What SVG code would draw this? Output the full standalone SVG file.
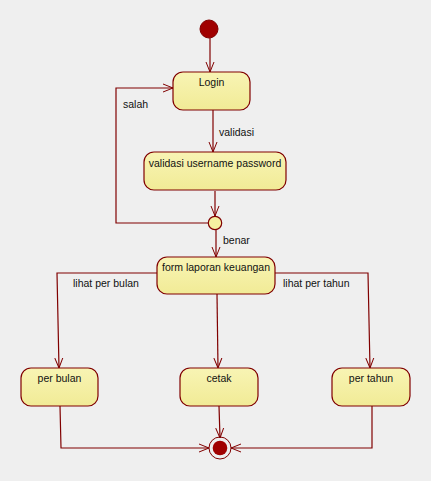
<svg xmlns="http://www.w3.org/2000/svg" width="431" height="481" viewBox="0 0 431 481">
<defs>
<marker id="arr" viewBox="0 0 10 10" refX="10" refY="5" markerWidth="10" markerHeight="10" markerUnits="userSpaceOnUse" orient="auto">
<path d="M0,1 L10,5 L0,9" fill="none" stroke="#800000" stroke-width="1"/>
</marker>
<linearGradient id="g" x1="0" y1="0" x2="0" y2="1">
<stop offset="0" stop-color="#f8f4b4"/>
<stop offset="1" stop-color="#f1eb96"/>
</linearGradient>
</defs>
<style>
.box{fill:url(#g);stroke:#800000;stroke-width:1.2}
.t{font-family:"Liberation Sans",Arial,sans-serif;font-size:10.5px;fill:#111}
.c{fill:none;stroke:#800000;stroke-width:1.2}
</style>
<rect width="431" height="481" fill="#efefef"/>
<g id="connectors">
<path class="c" d="M210,38 L210,72" marker-end="url(#arr)"/>
<path class="c" d="M213,110 L213,152" marker-end="url(#arr)"/>
<path class="c" d="M215,191 L215,216" marker-end="url(#arr)"/>
<path class="c" d="M208.5,223 L116,223 L116,88 L173,88" marker-end="url(#arr)"/>
<path class="c" d="M216,229.5 L216,257" marker-end="url(#arr)"/>
<path class="c" d="M157,273 L57,273 L59,368" marker-end="url(#arr)"/>
<path class="c" d="M275,273 L368,273 L370,368" marker-end="url(#arr)"/>
<path class="c" d="M217,294 L218,368" marker-end="url(#arr)"/>
<path class="c" d="M219,406 L220,438" marker-end="url(#arr)"/>
<path class="c" d="M60,406 L61,448 L209,448" marker-end="url(#arr)"/>
<path class="c" d="M372,406 L372,448 L231,448" marker-end="url(#arr)"/>
</g>
<g id="labels">
<text class="t" x="219" y="136">validasi</text>
<text class="t" x="123" y="108">salah</text>
<text class="t" x="223" y="244">benar</text>
<text class="t" x="73" y="287">lihat per bulan</text>
<text class="t" x="283" y="287">lihat per tahun</text>
</g>
<g id="start"><circle cx="209" cy="29" r="9" fill="#a00000" stroke="#800000"/></g>
<g id="login"><rect class="box" x="173" y="72" width="77" height="38" rx="10"/><text class="t" x="211.5" y="86" text-anchor="middle">Login</text></g>
<g id="validasi"><rect class="box" x="144" y="152" width="142" height="38" rx="10"/><text class="t" x="215" y="167" text-anchor="middle">validasi username password</text></g>
<g id="decision"><circle cx="215" cy="223" r="6.7" fill="#f5f0a0" stroke="#800000" stroke-width="1.2"/></g>
<g id="form"><rect class="box" x="157" y="257" width="118" height="37" rx="10"/><text class="t" x="216" y="271" text-anchor="middle">form laporan keuangan</text></g>
<g id="perbulan"><rect class="box" x="21" y="368" width="77" height="38" rx="10"/><text class="t" x="59.5" y="382" text-anchor="middle">per bulan</text></g>
<g id="cetak"><rect class="box" x="180" y="368" width="78" height="38" rx="10"/><text class="t" x="219" y="382" text-anchor="middle">cetak</text></g>
<g id="pertahun"><rect class="box" x="332" y="368" width="78" height="38" rx="10"/><text class="t" x="371" y="382" text-anchor="middle">per tahun</text></g>
<g id="end"><circle cx="220" cy="448" r="11" fill="none" stroke="#800000" stroke-width="1"/><circle cx="220" cy="448" r="7.3" fill="#a00000"/></g>
</svg>
